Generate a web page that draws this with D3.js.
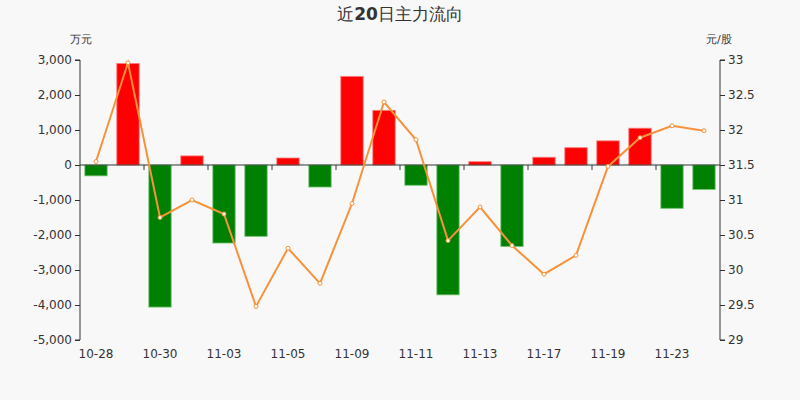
<!DOCTYPE html>
<html>
<head>
<meta charset="utf-8">
<style>
body{margin:0;background:#f8f8f8;}
svg{display:block;font-family:"DejaVu Sans",sans-serif;}
</style>
</head>
<body>
<svg width="800" height="400"></svg>
<script src="https://cdn.jsdelivr.net/npm/d3@7/dist/d3.min.js"></script>
<script>
var dates = ["10-28","10-29","10-30","11-02","11-03","11-04","11-05","11-06","11-09","11-10",
             "11-11","11-12","11-13","11-16","11-17","11-18","11-19","11-20","11-23","11-24"];
var flow = [-310,2900,-4060,260,-2230,-2040,200,-630,2530,1560,
            -580,-3710,95,-2330,220,495,690,1050,-1240,-700];
var price = [31.55,32.96,30.75,31.0,30.8,29.48,30.31,29.81,30.95,32.4,
             31.86,30.42,30.9,30.35,29.94,30.21,31.48,31.89,32.06,31.99];
var leftTicks = [-5000,-4000,-3000,-2000,-1000,0,1000,2000,3000];
var rightTicks = [29,29.5,30,30.5,31,31.5,32,32.5,33];

var svg = d3.select("svg");
var pL = 80, pR = 720, pT = 60, pB = 340;

svg.append("rect").attr("width",800).attr("height",400).attr("fill","#f8f8f8");

var x = d3.scaleBand().domain(dates).range([pL,pR]).paddingInner(0.3).paddingOuter(0.15);
var xb = d3.scaleBand().domain(dates).range([pL,pR]);
var y = d3.scaleLinear().domain([-5000,3000]).range([pB,pT]);
var y2 = d3.scaleLinear().domain([29,33]).range([pB,pT]);

// title
svg.append("text").attr("x",400).attr("y",20).attr("text-anchor","middle")
  .attr("font-size",17).attr("fill","#333")
  .html('近<tspan font-weight="bold">20</tspan>日主力流向');

svg.append("text").attr("x",92).attr("y",43).attr("text-anchor","end")
  .attr("font-size",11).attr("fill","#333").text("万元");
svg.append("text").attr("x",706).attr("y",43).attr("text-anchor","start")
  .attr("font-size",11).attr("fill","#333").text("元/股");

// bars
svg.selectAll("rect.bar")
  .data(flow)
  .enter()
  .append("rect")
  .attr("class","bar")
  .attr("x",function(d,i){ return x(dates[i]); })
  .attr("width",x.bandwidth())
  .attr("y",function(d){ return d>=0 ? y(d) : y(0); })
  .attr("height",function(d){ return Math.abs(y(d)-y(0)); })
  .attr("fill",function(d){ return d>=0 ? "#ff0000" : "#008000"; })
  .attr("stroke",function(d){ return d>=0 ? "rgba(255,120,120,0.8)" : "rgba(120,200,120,0.8)"; })
  .attr("stroke-width",1);

// left axis
var fmt = d3.format(",");
var gl = svg.append("g").attr("transform","translate("+pL+",0)")
  .call(d3.axisLeft(y).tickValues(leftTicks).tickSize(5).tickPadding(3)
    .tickFormat(function(d){ return fmt(d).replace("\u2212","-"); }));
// right axis
var gr = svg.append("g").attr("transform","translate("+pR+",0)")
  .call(d3.axisRight(y2).tickValues(rightTicks).tickSize(5).tickPadding(3).tickFormat(function(d){ return d; }));
[gl,gr].forEach(function(g){
  g.select(".domain").attr("stroke","#333").attr("d", g===gl ? "M-5,"+pT+"H0V"+pB+"H-5" : "M5,"+pT+"H0V"+pB+"H5");
  g.selectAll(".tick line").attr("stroke","#333");
  g.selectAll("text").attr("font-size",12).attr("fill","#333").attr("font-family","DejaVu Sans, sans-serif");
});

// zero line x axis
var labelDates = dates.filter(function(d,i){ return i%2==0; });
var gx = svg.append("g").attr("transform","translate(0,"+y(0)+")");
gx.append("line").attr("x1",pL).attr("x2",pR).attr("stroke","#333");
gx.selectAll("line.tk")
  .data(dates.filter(function(d,i){ return i%2==0 && i>0; }))
  .enter()
  .append("line")
  .attr("class","tk")
  .attr("x1",function(d){ return xb(d); })
  .attr("x2",function(d){ return xb(d); })
  .attr("y1",0).attr("y2",5)
  .attr("stroke","#333");
svg.selectAll("text.xl")
  .data(labelDates)
  .enter()
  .append("text")
  .attr("class","xl")
  .attr("x",function(d){ return xb(d)+xb.bandwidth()/2; })
  .attr("y",358)
  .attr("text-anchor","middle")
  .attr("font-size",12).attr("fill","#333")
  .text(function(d){ return d; });

// price line
var line = d3.line()
  .x(function(d,i){ return xb(dates[i])+xb.bandwidth()/2; })
  .y(function(d){ return y2(d); });
svg.append("path").datum(price).attr("d",line)
  .attr("fill","none").attr("stroke","#f7923a").attr("stroke-width",2);
svg.selectAll("circle")
  .data(price)
  .enter()
  .append("circle")
  .attr("cx",function(d,i){ return xb(dates[i])+xb.bandwidth()/2; })
  .attr("cy",function(d){ return y2(d); })
  .attr("r",2)
  .attr("fill","#fff")
  .attr("stroke","#f7923a")
  .attr("stroke-width",1);
</script>
</body>
</html>
